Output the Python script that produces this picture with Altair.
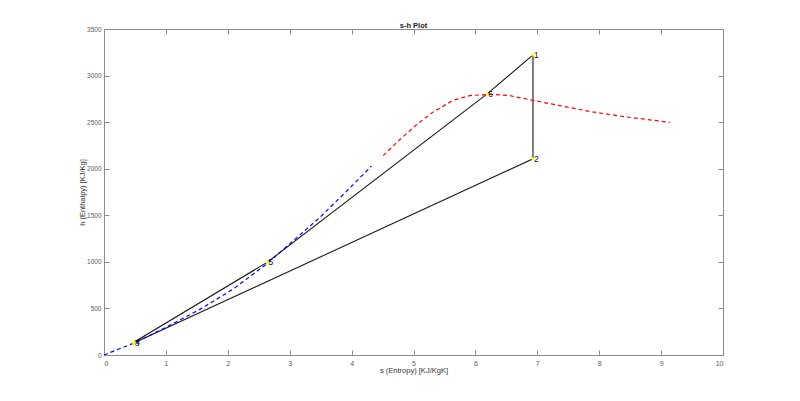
import altair as alt
import pandas as pd

# Cycle state points (path order 1-2-3-4-5-6-1)
cycle_labels = ["1", "2", "3", "4", "5", "6", "1"]
cycle_s = [6.93, 6.93, 0.48, 0.49, 2.64, 6.19, 6.93]
cycle_h = [3222, 2106, 128, 140, 997, 2803, 3222]

# Saturated liquid line (blue dashed)
liq_s = [0.0, 0.50, 1.01, 1.55, 2.08, 2.62, 3.05, 3.48, 3.92, 4.32]
liq_h = [0, 133, 300, 490, 705, 973, 1222, 1473, 1759, 2027]

# Saturated vapour line (red dashed)
vap_s = [4.51, 4.78, 5.05, 5.32, 5.64, 5.91, 6.23, 6.55, 6.93, 7.36, 7.89, 8.44, 9.14]
vap_h = [2141, 2313, 2473, 2610, 2734, 2785, 2799, 2785, 2734, 2678, 2610, 2556, 2498]

x_ticks = [0, 1, 2, 3, 4, 5, 6, 7, 8, 9, 10]
y_ticks = [0, 500, 1000, 1500, 2000, 2500, 3000, 3500]

W, H = 619, 326
FONT = "Liberation Sans"
AX = "#8c8c8c"
LAB = "#5a5a5a"

cycle_df = pd.DataFrame({"s": cycle_s, "h": cycle_h, "label": cycle_labels,
                         "ord": list(range(len(cycle_s)))})
pts_df = cycle_df.iloc[:-1]
liq_df = pd.DataFrame({"s": liq_s, "h": liq_h})
vap_df = pd.DataFrame({"s": vap_s, "h": vap_h})

xs = alt.Scale(domain=[0, 10], nice=False, zero=False)
ys = alt.Scale(domain=[0, 3500], nice=False, zero=False)

main_x = alt.Axis(values=x_ticks, orient="bottom", ticks=False, domain=False, grid=False,
                  format="d",
                  labelFontSize=7, labelColor=LAB, labelFont=FONT, labelPadding=4,
                  title="s (Entropy) [KJ/KgK]", titleFontSize=7.5, titleFontWeight="normal",
                  titleColor="#333333", titleFont=FONT, titlePadding=0)
main_y = alt.Axis(values=y_ticks, orient="left", ticks=False, domain=False, grid=False,
                  format="d",
                  labelFontSize=6.5, labelColor=LAB, labelFont=FONT, labelPadding=3,
                  title="h (Enthalpy) [KJ/Kg]", titleFontSize=7.5, titleFontWeight="normal",
                  titleColor="#333333", titleFont=FONT, titlePadding=0)

def tick_axis(values, orient, offset):
    return alt.Axis(values=values, orient=orient, offset=offset, labels=False, domain=False,
                    grid=False, ticks=True, tickSize=5, tickColor=AX, tickWidth=1, title=None)

cycle = alt.Chart(cycle_df).mark_line(color="#1a1a1a", strokeWidth=1.1).encode(
    x=alt.X("s:Q", scale=xs, axis=main_x),
    y=alt.Y("h:Q", scale=ys, axis=main_y),
    order="ord:Q",
)

liq = alt.Chart(liq_df).mark_line(color="#0000ff", strokeWidth=1.2, strokeDash=[4, 3]).encode(
    x=alt.X("s:Q", scale=xs, axis=tick_axis(x_ticks, "top", -H)),
    y=alt.Y("h:Q", scale=ys, axis=tick_axis(y_ticks, "right", -W)),
)

vap = alt.Chart(vap_df).mark_line(color="#ff0000", strokeWidth=1.2, strokeDash=[4, 3]).encode(
    x=alt.X("s:Q", scale=xs, axis=tick_axis(x_ticks, "bottom", -H)),
    y=alt.Y("h:Q", scale=ys, axis=tick_axis(y_ticks, "left", -W)),
)

dots = alt.Chart(pts_df).mark_point(filled=True, shape="circle", size=10, color="#ffff00",
                                    opacity=1).encode(
    x=alt.X("s:Q", scale=xs, axis=None),
    y=alt.Y("h:Q", scale=ys, axis=None),
)

labels = alt.Chart(pts_df).mark_text(align="left", baseline="middle", dx=1, fontSize=8.5,
                                     font=FONT, color="#111111").encode(
    x=alt.X("s:Q", scale=xs, axis=None),
    y=alt.Y("h:Q", scale=ys, axis=None),
    text="label:N",
)

chart = alt.layer(cycle, liq, vap, dots, labels).resolve_axis(
    x="independent", y="independent"
).properties(
    width=W, height=H,
    title=alt.TitleParams("s-h Plot", fontSize=7.5, fontWeight="bold", font=FONT,
                          color="#222222", offset=-3, anchor="middle"),
    autosize=alt.AutoSizeParams(type="none"),
    padding={"left": 96, "top": 21, "right": 69, "bottom": 38},
).configure_view(stroke=AX, strokeWidth=1)

chart.save("out.html", embed_options={"renderer": "svg", "actions": False})
